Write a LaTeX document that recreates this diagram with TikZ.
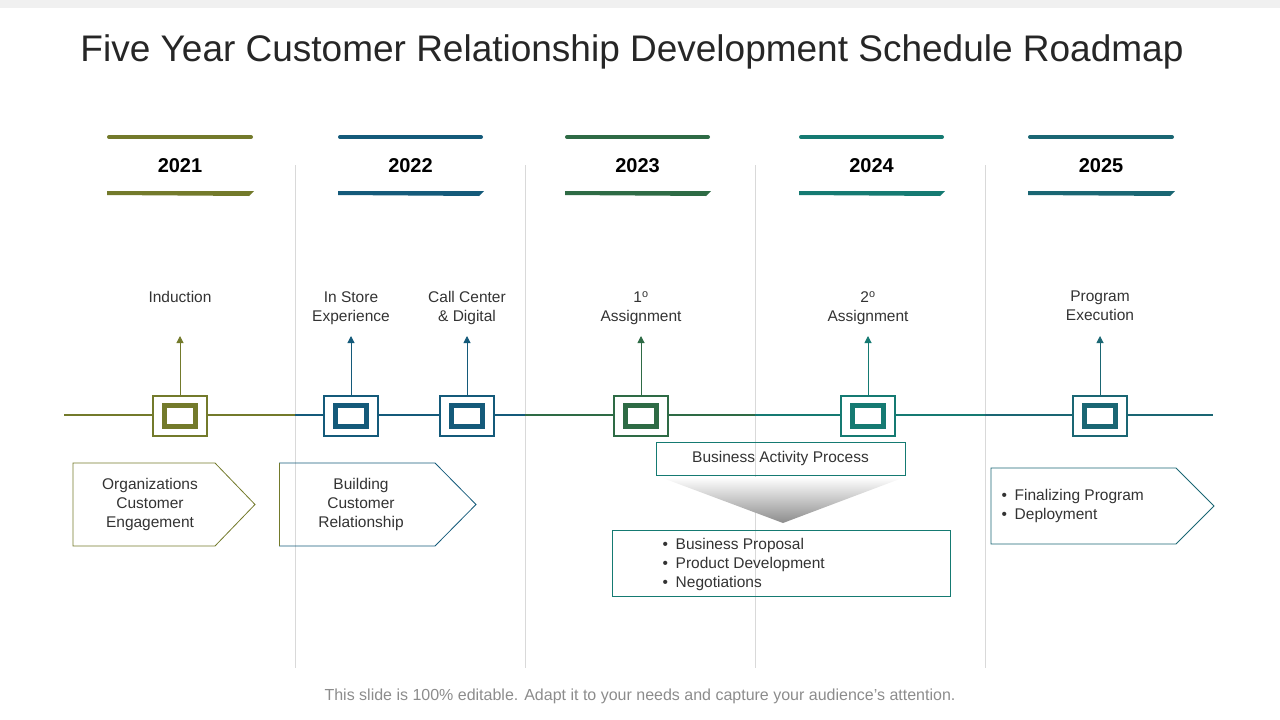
\documentclass[tikz,border=0pt]{standalone}
\usepackage{fontspec}
\setmainfont{Liberation Sans}
\usetikzlibrary{arrows.meta}
\definecolor{colA}{HTML}{737A2B}
\definecolor{colB}{HTML}{145A7A}
\definecolor{colC}{HTML}{2E6B45}
\definecolor{colD}{HTML}{157A72}
\definecolor{colE}{HTML}{1A6673}
\definecolor{txt}{HTML}{333333}
\tikzset{x=1pt,y=-1pt,
 lbl/.style={font=\fontsize{15.5}{19}\selectfont,text=txt,align=center},
 yr/.style={font=\fontsize{20}{24}\selectfont\bfseries,text=black},
 vline/.style={draw=black!15,line width=0.8pt},
 outerbox/.style={draw=#1,fill=white,line width=1.2pt,minimum width=54pt,minimum height=40pt,inner sep=0pt},
 innerbox/.style={draw=#1,line width=5pt,minimum width=31pt,minimum height=21pt,inner sep=0pt},
 upar/.style={draw=#1,line width=1pt,-{Triangle[length=7pt,width=7pt]}}}
\begin{document}
\begin{tikzpicture}
\useasboundingbox (0,0) rectangle (1280,720);
\fill[black!6] (0,0) rectangle (1280,8);
\node[font=\fontsize{37}{42}\selectfont,text=black!85] (title) at (632,52) {Five Year Customer Relationship Development Schedule Roadmap};
% vertical separators
\foreach \x/\n in {295/1,525/2,755/3,985/4}{\draw[vline] (\x,165) coordinate (vt\n) -- (\x,668) coordinate (vb\n);}
% year headers
\foreach \a/\b/\c/\y/\n in {107/253/colA/2021/1,338/483/colB/2022/2,565/710/colC/2023/3,799/944/colD/2024/4,1028/1174/colE/2025/5}{
  \draw[\c,line width=4pt,line cap=round] (\a+2,137) -- (\b-2,137);
  \fill[\c] (\a,191) -- (\b+1,191) -- (\b-4,196) -- (\a,195) -- cycle;
  \node[yr] (y\n) at ({(\a+\b)/2},166) {\y};
}
% timeline
\coordinate (t0) at (64,415); \coordinate (t1) at (295,415); \coordinate (t2) at (525,415);
\coordinate (t3) at (755,415); \coordinate (t4) at (985,415); \coordinate (t5) at (1213,415);
\draw[colA,line width=2pt] (t0) -- (t1);
\draw[colB,line width=2pt] (t1) -- (t2);
\draw[colC,line width=2pt] (t2) -- (t3);
\draw[colD,line width=2pt] (t3) -- (t4);
\draw[colE,line width=2pt] (t4) -- (t5);
% markers
\foreach \x/\c/\n/\t in {180/colA/1/{Induction},351/colB/2/{In Store\\Experience},467/colB/3/{Call Center\\\& Digital},641/colC/4/{1\textsuperscript{o}\\Assignment},868/colD/5/{2\textsuperscript{o}\\Assignment},1100/colE/6/{Program\\Execution}}{
  \node[outerbox=\c] (m\n) at (\x,416) {};
  \node[innerbox=\c] (mi\n) at (\x,416) {};
  \coordinate (a\n) at (\x,336);
  \draw[upar=\c] (m\n.north) -- (a\n);
  \node[lbl,anchor=north,inner sep=0pt] (l\n) at (\x,291) {\t};
}
% pentagon boxes
\draw[colA,line width=0.8pt] (73,463) -- (215,463) -- (255,504.5) -- (215,546) -- (73,546) -- cycle;
\node[lbl] (p1) at (150,504.5) {Organizations\\Customer\\Engagement};
\draw[colB,line width=0.8pt] (279,463) -- (435,463) -- (476,504.5) -- (435,546) -- (279,546);
\draw[colA,line width=0.8pt] (279,463) -- (279,546);
\node[lbl] (p2) at (361,504.5) {Building\\Customer\\Relationship};
\draw[colE,line width=0.8pt] (991,468) -- (1176,468) -- (1214,506) -- (1176,544) -- (991,544) -- cycle;
\node[lbl,align=left,anchor=west] (p3) at (998,506) {\textbullet\enspace Finalizing Program\\\textbullet\enspace Deployment};
% business activity
\shade[top color=white,bottom color=black!45] (660,477) -- (905,477) -- (783,523) -- cycle;
\node[lbl,draw=colD,line width=1pt,minimum width=249pt,minimum height=33pt,inner sep=0pt] (bap) at (780.5,458.5) {Business Activity Process};
\node[draw=colD,line width=1pt,minimum width=338pt,minimum height=66pt,inner sep=0pt] (bl) at (781,563) {};
\node[lbl,align=left,anchor=west] (blt) at (659,564) {\textbullet\enspace Business Proposal\\\textbullet\enspace Product Development\\\textbullet\enspace Negotiations};
\node[font=\fontsize{16}{19}\selectfont,text=black!45] (foot) at (640,696) {This slide is 100\% editable. Adapt it to your needs and capture your audience's attention.};
\end{tikzpicture}
\end{document}
